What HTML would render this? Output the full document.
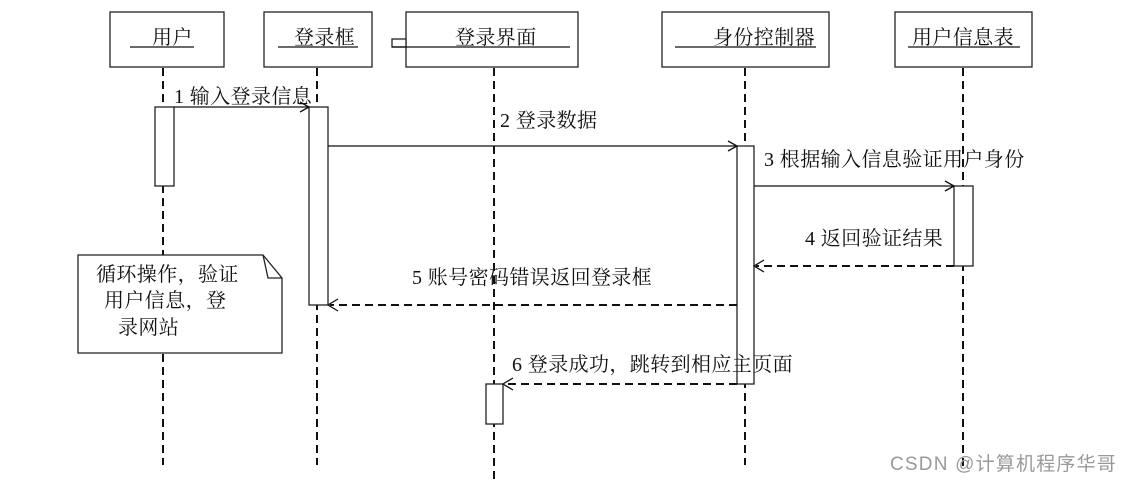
<!DOCTYPE html>
<html><head><meta charset="utf-8"><style>
body{margin:0;background:#fff}
svg text{font-family:"Liberation Serif","Noto Serif CJK SC",serif;font-size:20px;letter-spacing:0.4px;fill:#111}
</style></head><body>
<svg width="1144" height="482" viewBox="0 0 1144 482" xmlns="http://www.w3.org/2000/svg">
<g stroke="#111" stroke-width="2" stroke-dasharray="8,5" fill="none">
<line x1="163" y1="68" x2="163" y2="465"/>
<line x1="317" y1="68" x2="317" y2="465"/>
<line x1="494" y1="68" x2="494" y2="480"/>
<line x1="745" y1="68" x2="745" y2="465"/>
<line x1="963" y1="68" x2="963" y2="470"/>
</g>
<g stroke="#222" stroke-width="1.3" fill="#fff">
<rect x="110" y="12" width="114" height="55"/>
<rect x="264" y="12" width="108" height="55"/>
<rect x="406" y="12" width="172" height="55"/>
<rect x="392" y="39" width="14" height="8"/>
<rect x="662" y="12" width="167" height="55"/>
<rect x="895" y="12" width="137" height="55"/>
</g>
<g stroke="#111" stroke-width="1.3">
<line x1="130" y1="47" x2="194" y2="47"/>
<line x1="278" y1="47" x2="358" y2="47"/>
<line x1="392" y1="47" x2="570" y2="47"/>
<line x1="675" y1="47" x2="816" y2="47"/>
<line x1="908" y1="47" x2="1020" y2="47"/>
</g>
<text x="152" y="44">用户</text>
<text x="294" y="44">登录框</text>
<text x="455" y="44">登录界面</text>
<text x="713" y="44">身份控制器</text>
<text x="912" y="44">用户信息表</text>
<g stroke="#222" stroke-width="1.3" fill="#fff">
<rect x="155" y="107" width="19" height="79"/>
<rect x="309" y="107" width="19" height="198"/>
<rect x="737" y="146" width="17" height="238"/>
<rect x="954" y="186" width="19" height="80"/>
<rect x="486" y="384" width="17" height="40"/>
<path d="M78 255 H263 L282 278 V353 H78 Z"/>
<path d="M263 255 L268 278 H282" fill="none"/>
</g>
<g stroke="#111" stroke-width="1.3" fill="none">
<line x1="174" y1="107" x2="309" y2="107"/><path d="M300 102 L309 107 L300 112"/>
<line x1="328" y1="146" x2="737" y2="146"/><path d="M728 141 L737 146 L728 151"/>
<line x1="754" y1="186" x2="954" y2="186"/><path d="M945 181 L954 186 L945 191"/>
</g>
<g stroke="#111" stroke-width="2" stroke-dasharray="8,5" fill="none">
<line x1="954" y1="266" x2="756" y2="266"/>
<line x1="737" y1="305" x2="330" y2="305"/>
<line x1="737" y1="384" x2="505" y2="384"/>
</g>
<g stroke="#111" stroke-width="1.3" fill="none">
<path d="M764 260 L754 266 L764 272"/>
<path d="M338 299 L328 305 L338 311"/>
<path d="M513 378 L503 384 L513 390"/>
</g>
<text x="174" y="103">1 输入登录信息</text>
<text x="500" y="127">2 登录数据</text>
<text x="764" y="166">3 根据输入信息验证用户身份</text>
<text x="805" y="245">4 返回验证结果</text>
<text x="412" y="284">5 账号密码错误返回登录框</text>
<text x="512" y="371">6 登录成功，跳转到相应主页面</text>
<text x="96" y="281">循环操作，验证</text>
<text x="104" y="307">用户信息，登</text>
<text x="118" y="334">录网站</text>
<text x="890" y="470" style="font-family:'Liberation Sans','Noto Sans CJK SC',sans-serif;font-size:19px;letter-spacing:1.2px;fill:#999">CSDN @计算机程序华哥</text>
</svg>
</body></html>
